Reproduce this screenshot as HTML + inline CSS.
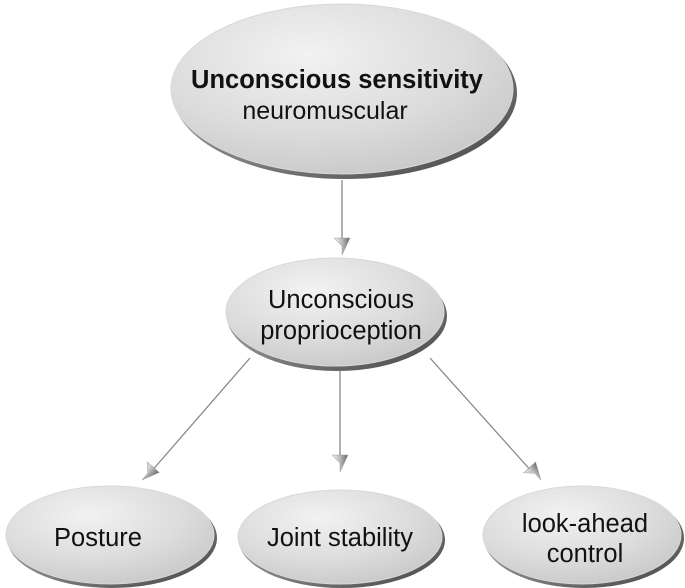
<!DOCTYPE html>
<html><head><meta charset="utf-8"><style>
html,body{margin:0;padding:0;background:#fff;}
svg{display:block;}
text{font-family:"Liberation Sans",sans-serif;fill:#111;}
</style></head><body>
<svg width="685" height="588" viewBox="0 0 685 588" xmlns="http://www.w3.org/2000/svg">
<defs>
<radialGradient id="g" cx="40%" cy="30%" r="75%">
<stop offset="0" stop-color="#f2f2f2"/>
<stop offset="0.6" stop-color="#dcdcdc"/>
<stop offset="1" stop-color="#c8c8c8"/>
</radialGradient>
<linearGradient id="rim" x1="0" y1="0" x2="1" y2="1">
<stop offset="0" stop-color="#bbb"/>
<stop offset="0.6" stop-color="#777"/>
<stop offset="1" stop-color="#444"/>
</linearGradient>
<linearGradient id="ah" x1="0" y1="0" x2="1" y2="0">
<stop offset="0" stop-color="#f4f4f4"/>
<stop offset="0.5" stop-color="#bbb"/>
<stop offset="1" stop-color="#666"/>
</linearGradient>
</defs>
<g stroke="#888" stroke-width="1.3">
<line x1="342" y1="180" x2="342" y2="242"/>
<line x1="340" y1="371" x2="340" y2="458"/>
<line x1="250" y1="358" x2="150" y2="473"/>
<line x1="430" y1="358" x2="533" y2="473"/>
</g>
<g fill="url(#ah)" stroke="#999" stroke-width="0.5">
<path d="M334,238 L350,238 L342,255 L342,246 Z"/>
<path d="M332,455 L348,455 L340,472 L340,463 Z"/>
<path transform="rotate(41 142 480)" d="M134,463 L150,463 L142,480 L142,471 Z"/>
<path transform="rotate(-42 541 480)" d="M533,463 L549,463 L541,480 L541,471 Z"/>
</g>
<ellipse cx="345" cy="93" rx="172" ry="86" fill="url(#rim)"/>
<ellipse cx="342" cy="89" rx="171" ry="85" fill="url(#g)" stroke="#d8d8d8" stroke-width="1"/>
<ellipse cx="337" cy="316" rx="110" ry="55" fill="url(#rim)"/>
<ellipse cx="335" cy="312" rx="109" ry="54" fill="url(#g)" stroke="#d8d8d8"/>
<ellipse cx="112" cy="538" rx="105" ry="50" fill="url(#rim)"/>
<ellipse cx="110" cy="535" rx="104" ry="49" fill="url(#g)" stroke="#d8d8d8"/>
<ellipse cx="342" cy="540" rx="103" ry="48" fill="url(#rim)"/>
<ellipse cx="340" cy="537" rx="102" ry="47" fill="url(#g)" stroke="#d8d8d8"/>
<ellipse cx="584" cy="538" rx="100" ry="50" fill="url(#rim)"/>
<ellipse cx="582" cy="535" rx="99" ry="49" fill="url(#g)" stroke="#d8d8d8"/>
<text x="337" y="88" font-size="25.5" font-weight="bold" text-anchor="middle">Unconscious sensitivity</text>
<text x="325" y="119" font-size="25" text-anchor="middle">neuromuscular</text>
<text x="341" y="308" font-size="25.5" text-anchor="middle">Unconscious</text>
<text x="341" y="339" font-size="25.5" text-anchor="middle">proprioception</text>
<text x="98" y="546" font-size="25.5" text-anchor="middle">Posture</text>
<text x="340" y="546" font-size="25.5" text-anchor="middle">Joint stability</text>
<text x="585" y="532" font-size="25.5" text-anchor="middle">look-ahead</text>
<text x="585" y="562" font-size="25.5" text-anchor="middle">control</text>
</svg>
</body></html>
